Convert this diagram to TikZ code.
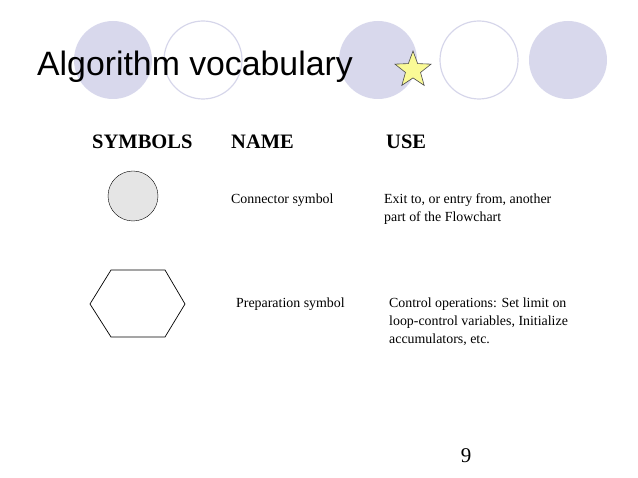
\documentclass[tikz,border=0pt]{standalone}
\usepackage{fontspec}
\setmainfont{Liberation Serif}
\newfontfamily\titlefont{Liberation Sans}
\usetikzlibrary{shapes.geometric}
\definecolor{lav}{RGB}{216,216,236}
\definecolor{lavline}{RGB}{214,214,234}
\definecolor{stary}{RGB}{250,250,150}
\tikzset{x=1pt,y=-1pt,
 deco/.style={circle,minimum size=78pt,inner sep=0pt},
 full/.style={deco,fill=lav},
 hollow/.style={deco,draw=lavline,line width=1.2pt},
 head/.style={font=\fontsize{20.5}{24}\selectfont\bfseries,anchor=base west,inner sep=0pt},
 txt/.style={font=\fontsize{13.9}{18}\selectfont,anchor=north west,inner sep=0pt,align=left}}
\begin{document}
\begin{tikzpicture}
\useasboundingbox (0,0) rectangle (638,478);
\node[full] (c1) at (113,60) {};
\node[hollow] (c2) at (203,60) {};
\node[full] (c3) at (378,60) {};
\node[hollow] (c4) at (479,60) {};
\node[full] (c5) at (568,60) {};
\node[star,star points=5,star point ratio=2.4,minimum size=38pt,inner sep=0pt,fill=stary,draw=black!70,line width=0.6pt] (st) at (413,70) {};
\node[font=\titlefont\fontsize{33.8}{36}\selectfont,anchor=base west,inner sep=0pt] (title) at (37,76) {Algorithm vocabulary};
\node[head] (h1) at (92,149) {SYMBOLS};
\node[head] (h2) at (231,149) {NAME};
\node[head] (h3) at (386,149) {USE};
\node[circle,draw=black,fill=black!10,minimum size=50pt,inner sep=0pt] (conn) at (133,196) {};
\node[txt] (n1) at (231,194) {Connector symbol};
\node[txt] (u1) at (384,194) {Exit to, or entry from, another\\part of the Flowchart};
\draw[fill=white,line width=0.7pt] (90,304) -- (111,270) -- (165,270) -- (185,304) -- (165,337) -- (111,337) -- cycle;
\node[txt] (n2) at (236,298) {Preparation symbol};
\node[txt] (u2) at (389,298) {Control operations: Set limit on\\loop-control variables, Initialize\\accumulators, etc.};
\node[font=\fontsize{21}{24}\selectfont,anchor=base,inner sep=0pt] (pg) at (466,463) {9};
\end{tikzpicture}
\end{document}
